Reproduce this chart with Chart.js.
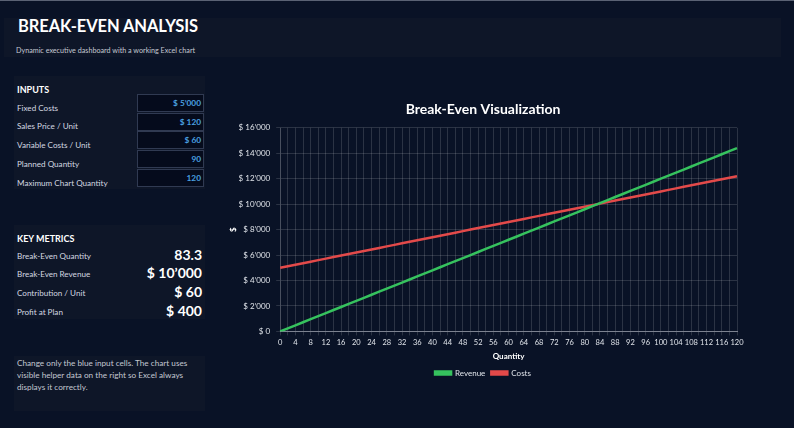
<!DOCTYPE html>
<html>
<head>
<meta charset="utf-8">
<script src="https://cdn.jsdelivr.net/npm/chart.js@4"></script>
<style>
  html, body { margin: 0; padding: 0; }
  body {
    width: 794px; height: 428px; overflow: hidden; position: relative;
    background: #091226; font-family: Lato, "Open Sans", sans-serif; color: #d4d8e0;
    border-top: 1px solid #5a6274; box-sizing: border-box;
  }
  .panel { position: absolute; background: #0e1628; }
  .header { left: 4px; top: 17px; width: 777px; height: 39px; }
  .title { position: absolute; left: 18px; top: 15px; font-size: 16.5px; font-weight: bold; color: #fff; letter-spacing: -0.1px; }
  .subtitle { position: absolute; left: 16px; top: 45px; font-size: 7.2px; color: #c4c8d2; }
  .inputs { left: 14px; top: 75px; width: 191px; height: 113px; }
  .metrics { left: 14px; top: 224px; width: 191px; height: 94px; }
  .note { left: 14px; top: 355px; width: 191px; height: 55px; }
  .sec { position: absolute; left: 3px; font-size: 9px; font-weight: bold; color: #fff; }
  .lbl { position: absolute; left: 3px; font-size: 8.1px; color: #d4d8e0; }
  .cell { position: absolute; left: 123px; width: 67px; height: 18px; background: #050b1c; border: 1px solid #303a52; box-sizing: border-box;
          text-align: right; font-size: 8.3px; font-weight: bold; color: #4aa0e0; line-height: 17px; padding-right: 2px; }
  .big { position: absolute; right: 3px; font-size: 14px; font-weight: bold; color: #fff; }
  .notetxt { position: absolute; left: 3px; top: 1px; width: 186px; font-size: 8.2px; line-height: 12px; color: #c4c8d2; }
  #chart { position: absolute; left: 220px; top: 92px; }
</style>
</head>
<body>
<div class="panel header"></div>
<div class="title">BREAK-EVEN ANALYSIS</div>
<div class="subtitle">Dynamic executive dashboard with a working Excel chart</div>

<div class="panel inputs">
  <div class="sec" style="top:8px">INPUTS</div>
  <div class="lbl" style="top:27px">Fixed Costs</div>
  <div class="lbl" style="top:45px">Sales Price / Unit</div>
  <div class="lbl" style="top:64px">Variable Costs / Unit</div>
  <div class="lbl" style="top:83px">Planned Quantity</div>
  <div class="lbl" style="top:102px">Maximum Chart Quantity</div>
  <div class="cell" style="top:18px">$ 5’000</div>
  <div class="cell" style="top:37px">$ 120</div>
  <div class="cell" style="top:55px">$ 60</div>
  <div class="cell" style="top:74px">90</div>
  <div class="cell" style="top:93px">120</div>
</div>

<div class="panel metrics">
  <div class="sec" style="top:8px">KEY METRICS</div>
  <div class="lbl" style="top:26px">Break-Even Quantity</div>
  <div class="lbl" style="top:44px">Break-Even Revenue</div>
  <div class="lbl" style="top:63px">Contribution / Unit</div>
  <div class="lbl" style="top:82px">Profit at Plan</div>
  <div class="big" style="top:21px">83.3</div>
  <div class="big" style="top:39px">$ 10’000</div>
  <div class="big" style="top:58px">$ 60</div>
  <div class="big" style="top:77px">$ 400</div>
</div>

<div class="panel note">
  <div class="notetxt">Change only the blue input cells. The chart uses visible helper data on the right so Excel always displays it correctly.</div>
</div>

<canvas id="chart" width="560" height="298"></canvas>

<script>
// helper data (quantity steps of 2)
const quantities = [0,2,4,6,8,10,12,14,16,18,20,22,24,26,28,30,32,34,36,38,40,42,44,46,48,50,52,54,56,58,60,
  62,64,66,68,70,72,74,76,78,80,82,84,86,88,90,92,94,96,98,100,102,104,106,108,110,112,114,116,118,120];

const revenue = [0,240,480,720,960,1200,1440,1680,1920,2160,2400,2640,2880,3120,3360,3600,3840,4080,4320,4560,
  4800,5040,5280,5520,5760,6000,6240,6480,6720,6960,7200,7440,7680,7920,8160,8400,8640,8880,9120,9360,
  9600,9840,10080,10320,10560,10800,11040,11280,11520,11760,12000,12240,12480,12720,12960,13200,13440,13680,13920,14160,14400];

const costs = [5000,5120,5240,5360,5480,5600,5720,5840,5960,6080,6200,6320,6440,6560,6680,6800,6920,7040,7160,7280,
  7400,7520,7640,7760,7880,8000,8120,8240,8360,8480,8600,8720,8840,8960,9080,9200,9320,9440,9560,9680,
  9800,9920,10040,10160,10280,10400,10520,10640,10760,10880,11000,11120,11240,11360,11480,11600,11720,11840,11960,12080,12200];

const yTicks = [0,2000,4000,6000,8000,10000,12000,14000,16000];

const fontFamily = "Lato, 'Open Sans', sans-serif";
const gridColor = "rgba(255,255,255,0.14)";

function money(v) {
  return "$ " + String(v).replace(/\B(?=(\d{3})+(?!\d))/g, "’");
}

new Chart(document.getElementById("chart"), {
  type: "line",
  data: {
    labels: quantities,
    datasets: [
      { label: "Revenue", data: revenue, borderColor: "#36c25e", backgroundColor: "#36c25e", borderWidth: 2.5, pointRadius: 0, tension: 0 },
      { label: "Costs", data: costs, borderColor: "#e34a4a", backgroundColor: "#e34a4a", borderWidth: 2.5, pointRadius: 0, tension: 0 },
    ],
  },
  options: {
    responsive: false,
    animation: false,
    devicePixelRatio: 1,
    layout: { padding: { left: 9, right: 43, top: 0, bottom: 4 } },
    plugins: {
      title: {
        display: true,
        text: "Break-Even Visualization",
        color: "#ffffff",
        font: { family: fontFamily, size: 14, weight: "bold" },
        padding: { top: 8, bottom: 10 },
      },
      legend: {
        position: "bottom",
        labels: {
          color: "#e0e4ea",
          boxWidth: 16,
          boxHeight: 3,
          padding: 6,
          font: { family: fontFamily, size: 8 },
        },
      },
      tooltip: { enabled: false },
    },
    scales: {
      x: {
        grid: { color: gridColor, tickLength: 4, tickColor: gridColor },
        border: { color: "#7c8290" },
        ticks: {
          autoSkip: false,
          maxRotation: 0,
          color: "#e0e4ea",
          font: { family: fontFamily, size: 7.5 },
          padding: 3,
          callback: function (v, i) { return i % 2 === 0 ? this.getLabelForValue(v) : ""; },
        },
        title: { display: true, text: "Quantity", color: "#ffffff", font: { family: fontFamily, size: 8, weight: "bold" }, padding: { top: 1, bottom: 2 } },
      },
      y: {
        min: yTicks[0],
        max: yTicks[yTicks.length - 1],
        afterBuildTicks: (axis) => { axis.ticks = yTicks.map((v) => ({ value: v })); },
        grid: { color: gridColor, tickLength: 4, tickColor: gridColor },
        border: { color: gridColor },
        ticks: { color: "#e0e4ea", font: { family: fontFamily, size: 8 }, padding: 6, callback: (v) => money(v) },
        title: { display: true, text: "$", color: "#ffffff", font: { family: fontFamily, size: 8, weight: "bold" }, padding: { top: 0, bottom: -6 } },
      },
    },
  },
});
</script>
</body>
</html>
